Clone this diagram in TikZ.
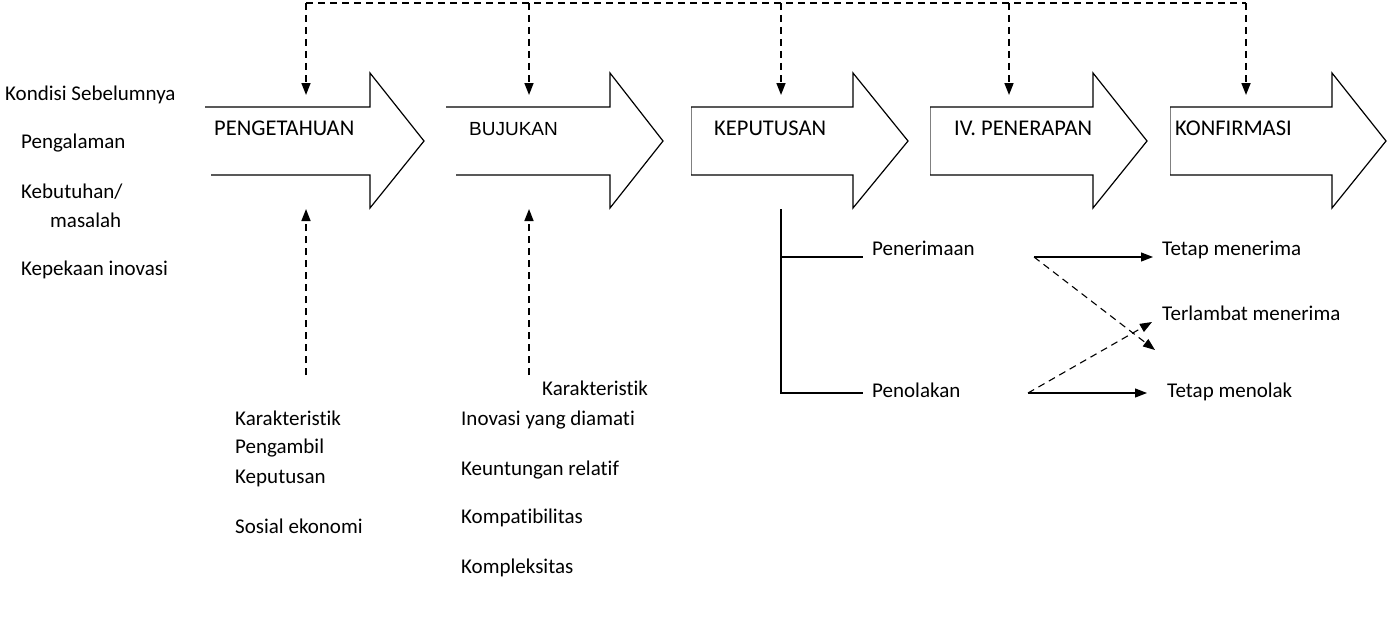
\documentclass[tikz,border=0pt]{standalone}
\usepackage{fontspec}
\setmainfont{Carlito}[Ligatures={NoCommon,NoContextual}]
\newfontfamily\arialfont{Liberation Sans}
\usetikzlibrary{arrows.meta}
\begin{document}
\begin{tikzpicture}[x=1pt,y=-1pt,line join=miter,>={Triangle[length=12pt,width=9pt]},
	txt/.style={anchor=west,inner sep=0pt,text height=14pt,text depth=4pt,font=\fontsize{21}{25}\selectfont},
	caps/.style={txt,font=\fontsize{22.5}{27}\selectfont},
	dsh/.style={line width=1.6pt,dash pattern=on 7pt off 5pt},
	sld/.style={line width=1.2pt}]
	\useasboundingbox (0,0) rectangle (1388,618);
	%\draw[gray!20](0,0)grid[step=50](1388,618);
	% open arrows
	\foreach \lt/\lb/\bx/\tx in {205/211/370/424, 446/456/610/663}
	\draw[sld] (\lt,107)--(\bx,107)--(\bx,73)--(\tx,141)--(\bx,208)--(\bx,175)--(\lb,175);
	% closed arrows
	\foreach \lt/\bx/\tx in {691/853/908, 930/1093/1147, 1170/1332/1386}{
		\draw[gray,line width=0.8pt] (\lt,107)--(\lt,175);
		\draw[sld] (\lt,107)--(\bx,107)--(\bx,73)--(\tx,141)--(\bx,208)--(\bx,175)--(\lt,175);
	}
	\node[caps] (tahu) at (214,130) {PENGETAHUAN};
	\node[txt,font=\arialfont\fontsize{19}{23}\selectfont] (bujuk) at (469,130) {BUJUKAN};
	\node[caps] (putus) at (714,130) {KEPUTUSAN};
	\node[caps] (terap) at (954,130) {IV. PENERAPAN};
	\node[caps] (konf) at (1175,130) {KONFIRMASI};
	% feedback line on top
	\draw[dsh] (306,3)--(1246,3);
	\foreach \x [count=\i] in {306,529,781,1009,1246}{
		\coordinate (up\i) at (\x,3);
		\coordinate (dn\i) at (\x,95);
		\draw[dsh,->] (up\i)--(dn\i);
	}
	% prior conditions
	\node[txt] (kond) at (5,95) {Kondisi Sebelumnya};
	\node[txt] (alam) at (21,143) {Pengalaman};
	\node[txt] (butuh) at (21,193) {Kebutuhan/};
	\node[txt] (masal) at (50,222) {masalah};
	\node[txt] (peka) at (21,270) {Kepekaan inovasi};
	% characteristics
	\coordinate (ka) at (306,375); \coordinate (kb) at (306,209);
	\coordinate (ia) at (529,375); \coordinate (ib) at (529,209);
	\draw[dsh,->] (ka)--(kb);
	\draw[dsh,->] (ia)--(ib);
	\node[txt] (kar1) at (235,420) {Karakteristik};
	\node[txt] (ambil) at (235,448) {Pengambil};
	\node[txt] (kep) at (235,478) {Keputusan};
	\node[txt] (sosek) at (235,528) {Sosial ekonomi};
	\node[txt] (kar2) at (542,390) {Karakteristik};
	\node[txt] (inov) at (461,420) {Inovasi yang diamati};
	\node[txt] (untung) at (461,470) {Keuntungan relatif};
	\node[txt] (kompat) at (461,518) {Kompatibilitas};
	\node[txt] (komplek) at (461,568) {Kompleksitas};
	% decision branch
	\node[txt] (terima) at (872,250) {Penerimaan};
	\node[txt] (tolak) at (872,392) {Penolakan};
	\coordinate (br) at (781,209);
	\draw[sld] (br)--(781,393)--(863,393);
	\draw[sld] (781,257)--(863,257);
	% confirmation
	\node[txt] (tetap1) at (1162,250) {Tetap menerima};
	\node[txt] (lambat) at (1162,315) {Terlambat menerima};
	\node[txt] (tetap2) at (1167,392) {Tetap menolak};
	\coordinate (sa) at (1034,257); \coordinate (sb) at (1028,393);
	\draw[sld,->] (sa)--(1153,257);
	\draw[sld,->] (sb)--(1147,393);
	\draw[dsh,line width=1.1pt,->] (sa)--(1155,350);
	\draw[dsh,line width=1.1pt,->] (sb)--(1152,322);
\end{tikzpicture}
\end{document}
